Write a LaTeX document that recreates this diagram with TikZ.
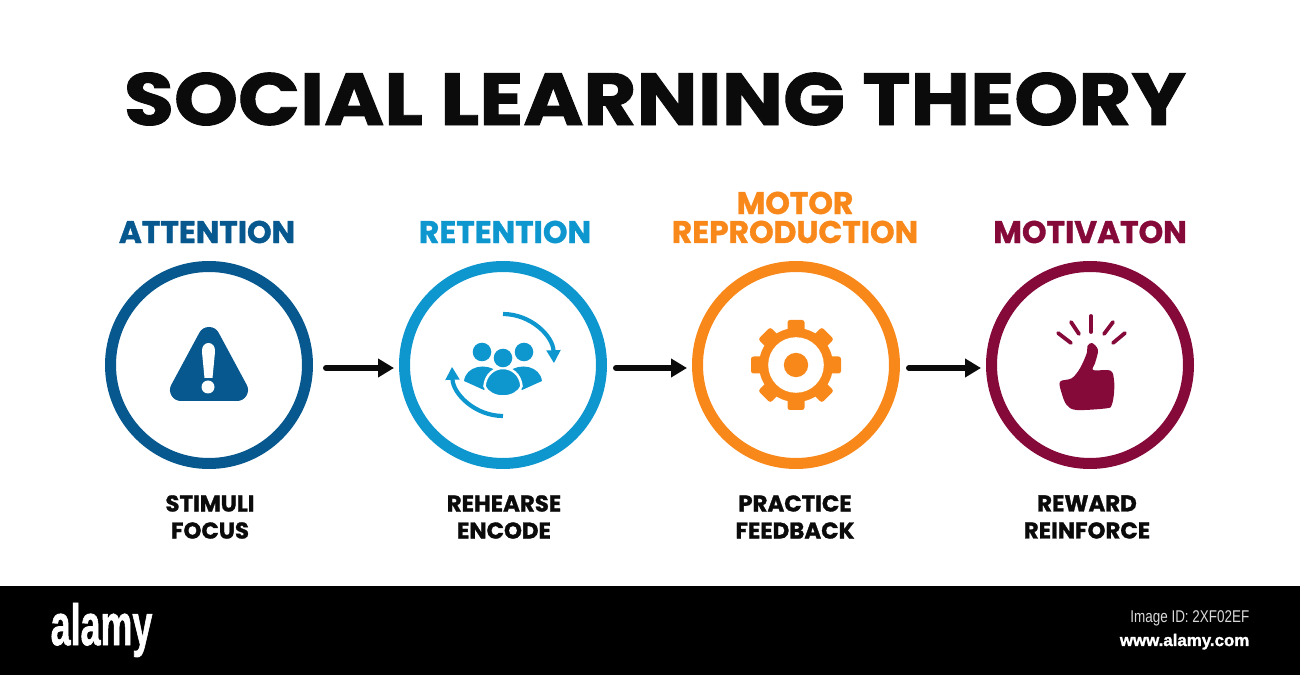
\documentclass[tikz,border=0pt]{standalone}
\usepackage{fontspec}
\setmainfont{Poppins}[BoldFeatures={FakeBold=1.2}]
\newfontfamily\alamyfont{Liberation Sans}[BoldFeatures={FakeBold=1.5}]
\usetikzlibrary{arrows.meta}

\definecolor{attblue}{HTML}{07588E}
\definecolor{retblue}{HTML}{0E97CF}
\definecolor{motorange}{HTML}{F9881B}
\definecolor{motmaroon}{HTML}{850A3A}
\definecolor{inkblack}{HTML}{0B0B0B}

\tikzset{
    ring/.style={circle, draw=#1, line width=1.1mm, minimum size=19.7mm, inner sep=0pt},
    headlabel/.style={text=#1, font=\fontsize{8.9}{8.25}\selectfont\bfseries, align=center, inner sep=0pt},
    sublabel/.style={text=inkblack, font=\fontsize{6.5}{7.7}\selectfont\bfseries, align=center, inner sep=0pt},
    flowarrow/.style={-{Triangle[length=1.6mm,width=1.8mm]}, line width=0.6mm, draw=inkblack,
        line cap=round, shorten <=0.9mm, shorten >=0.5mm},
    turnarrow/.style={-{Triangle[length=1.3mm,width=1.35mm]}, line width=0.42mm, draw=retblue},
    ray/.style={line width=0.38mm, draw=motmaroon, line cap=round}
}

\begin{document}
\begin{tikzpicture}[x=0.1mm, y=-0.1mm]
    \useasboundingbox (0,0) rectangle (1300,675);

    % Draw the title
    \node[text=inkblack, font=\fontsize{21}{21}\selectfont\bfseries, inner sep=0pt] (title) at (655,99) {\scalebox{1.104}[1]{SOCIAL LEARNING THEORY}};

    % Draw the four rings
    \node[ring=attblue] (attention) at (209,365) {};
    \node[ring=retblue] (retention) at (503,365) {};
    \node[ring=motorange] (motor) at (796,365) {};
    \node[ring=motmaroon] (motivation) at (1090,365) {};

    % Draw the arrows between the rings
    \draw[flowarrow, shorten <=1.3mm] ([yshift=-0.3mm]attention.east) -- ([yshift=-0.3mm]retention.west);
    \draw[flowarrow] ([yshift=-0.3mm]retention.east) -- ([yshift=-0.3mm]motor.west);
    \draw[flowarrow] ([yshift=-0.3mm]motor.east) -- ([yshift=-0.3mm]motivation.west);

    % Add the headings
    \node[headlabel=attblue] (attentionhead) at (207,232) {ATTENTION};
    \node[headlabel=retblue] (retentionhead) at (505,232) {RETENTION};
    \node[headlabel=motorange, anchor=base] (motorhead) at (795,243) {MOTOR\\REPRODUCTION};
    \node[headlabel=motmaroon] (motivationhead) at (1090,232) {MOTIVATON};

    % Add the labels under the rings
    \node[sublabel] (attentionsub) at (210,517) {STIMULI\\FOCUS};
    \node[sublabel] (retentionsub) at (504,517) {REHEARSE\\ENCODE};
    \node[sublabel] (motorsub) at (795,517) {PRACTICE\\FEEDBACK};
    \node[sublabel] (motivationsub) at (1087,517) {REWARD\\REINFORCE};

    % Warning triangle
    \path[fill=attblue, draw=attblue, line width=2.2mm, line join=round] (209,338) -- (181,390) -- (237,390) -- cycle;
    \fill[white] (202,352) .. controls (201,340) and (216,340) .. (215,352) -- (212.5,378) -- (204.5,378) -- cycle;
    \fill[white] (208,387) circle (0.65mm);

    % People in the middle
    \fill[retblue] (482,352) circle (0.93mm);
    \fill[retblue] (524,352) circle (0.93mm);
    \fill[retblue] (464,381) .. controls (466,366) and (486,362) .. (498,372) -- (484,390) -- cycle;
    \fill[retblue] (542,381) .. controls (540,366) and (520,362) .. (508,372) -- (522,390) -- cycle;
    \fill[retblue, draw=white, line width=0.25mm] (484.5,386) .. controls (487,362) and (519,362) .. (521.5,386) .. controls (516,400) and (490,400) .. (484.5,386) -- cycle;
    \fill[retblue] (503,358) circle (0.93mm);

    % Turning arrows around the people
    \draw[turnarrow] (503,314) arc[start angle=90, end angle=2, radius=5.1mm];
    \draw[turnarrow] (503,416) arc[start angle=270, end angle=182, radius=5.1mm];

    % Gear with eight teeth
    \foreach \tooth in {0,45,...,315}
        \fill[motorange, rounded corners=0.25mm, rotate around={\tooth:(796,365)}] (787.5,320) rectangle (804.5,340);
    \fill[motorange] (796,365) circle (3.7mm);
    \fill[white] (796,365) circle (2.78mm);
    \fill[motorange] (796,365) circle (1.22mm);

    % Thumb with its five rays
    \fill[motmaroon] plot[smooth cycle, tension=0.55] coordinates {
        (1092,343) (1098,350) (1095,363.3) (1093.3,370) (1110.5,370.7)
        (1114,380) (1114,393.3) (1111.7,405) (1106.7,408.3) (1076.7,410) (1066.7,405)
        (1061.7,393.3) (1060,381.7) (1071.7,378.3) (1080,368.3) (1086.7,353.3) (1087.5,346)};
    \draw[ray] (1091,316) -- (1091,332);
    \draw[ray] (1071,322) -- (1079,334);
    \draw[ray] (1058,333) -- (1071,343);
    \draw[ray] (1113,322) -- (1104,334);
    \draw[ray] (1125,333) -- (1113,343);

    % Black band at the bottom
    \fill[black] (0,586) rectangle (1300,675);
    \node[text=white, font=\alamyfont\bfseries\fontsize{15}{15}\selectfont, inner sep=0pt, anchor=base west] (alamylogo) at (50,645) {\scalebox{0.68}[1.1]{alamy}};
    \node[text=white!85!black, font=\alamyfont\fontsize{4.4}{4.4}\selectfont, inner sep=0pt, anchor=base east] (imageid) at (1250,622) {\scalebox{0.87}[1.1]{Image ID: 2XF02EF}};
    \node[text=white, font=\alamyfont\bfseries\fontsize{4.8}{4.8}\selectfont, inner sep=0pt, anchor=base east] (website) at (1250,646) {www.alamy.com};
\end{tikzpicture}
\end{document}
